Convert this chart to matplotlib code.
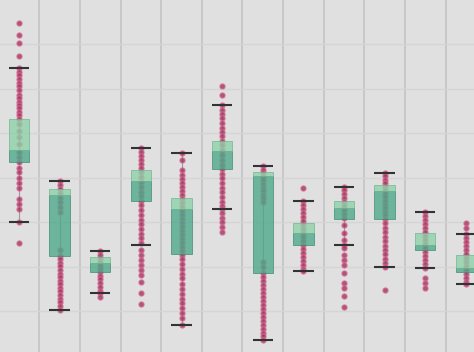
import numpy as np
import matplotlib
matplotlib.use("Agg")
import matplotlib.pyplot as plt

# Box statistics per group
q1 = [4.36, 2.25, 1.89, 3.48, 2.29, 4.20, 1.87, 2.49, 3.08, 3.08, 2.38, 1.89]
median = [4.62, 3.62, 2.09, 3.93, 3.30, 4.60, 4.04, 2.77, 3.32, 3.71, 2.49, 1.98]
q3 = [5.32, 3.75, 2.22, 4.17, 3.55, 4.83, 4.13, 2.99, 3.48, 3.84, 2.76, 2.27]
whisk_lo = [3.01, 1.04, 1.42, 2.49, 0.70, 3.30, 0.37, 1.91, 2.49, 2.00, 1.98, 1.62]
whisk_hi = [6.46, 3.93, 2.36, 4.67, 4.56, 5.63, 4.26, 3.48, 3.80, 4.11, 3.23, 2.74]

# Observations per group
points = [
    [7.47, 7.20, 7.02, 6.73, 6.46, 6.38, 6.30, 6.22, 6.13, 6.05, 5.97, 5.86,
     5.78, 5.71, 5.63, 5.56, 5.48, 5.40, 5.33, 5.21, 5.06, 4.91, 4.76, 4.58,
     4.47, 4.36, 4.23, 4.12, 4.00, 3.89, 3.78, 3.52, 3.41, 3.30, 3.01, 2.54],
    [3.93, 3.84, 3.75, 3.66, 3.55, 3.46, 3.35, 3.24, 2.38, 2.25, 2.17, 2.09,
     2.01, 1.93, 1.85, 1.77, 1.69, 1.61, 1.53, 1.45, 1.37, 1.29, 1.21, 1.12, 1.04],
    [2.36, 2.27, 2.18, 2.11, 2.02, 1.95, 1.89, 1.80, 1.72, 1.63, 1.55, 1.47,
     1.42, 1.33],
    [4.67, 4.58, 4.49, 4.40, 4.30, 4.21, 4.13, 4.02, 3.91, 3.80, 3.69, 3.58,
     3.48, 3.38, 3.27, 3.17, 3.06, 2.96, 2.85, 2.74, 2.64, 2.53, 2.38, 2.27,
     2.16, 2.04, 1.93, 1.82, 1.66, 1.42, 1.17],
    [4.56, 4.39, 4.17, 4.06, 3.98, 3.89, 3.80, 3.71, 3.62, 3.53, 3.44, 3.35,
     3.26, 3.17, 3.08, 2.99, 2.90, 2.81, 2.72, 2.63, 2.54, 2.45, 2.36, 2.27,
     2.17, 2.06, 1.96, 1.85, 1.74, 1.62, 1.51, 1.40, 1.29, 1.18, 1.07, 0.96,
     0.85, 0.70],
    [6.06, 5.85, 5.63, 5.53, 5.44, 5.34, 5.22, 5.12, 5.02, 4.93, 4.83, 4.74,
     4.62, 4.51, 4.40, 4.29, 4.20, 4.09, 3.99, 3.88, 3.78, 3.67, 3.57, 3.46,
     3.36, 3.30, 3.21, 3.10, 3.01, 2.90, 2.79],
    [4.26, 4.18, 4.10, 4.02, 3.94, 3.86, 3.78, 3.70, 3.62, 3.54, 3.46, 2.11,
     2.00, 1.87, 1.78, 1.69, 1.60, 1.51, 1.42, 1.33, 1.24, 1.15, 1.06, 0.97,
     0.88, 0.79, 0.70, 0.61, 0.52, 0.44, 0.37],
    [3.78, 3.48, 3.39, 3.30, 3.21, 3.12, 3.03, 2.94, 2.86, 2.77, 2.68, 2.59,
     2.50, 2.41, 2.32, 2.23, 2.14, 2.05, 1.96, 1.91],
    [3.80, 3.72, 3.63, 3.55, 3.46, 3.37, 3.28, 3.19, 3.10, 2.94, 2.77, 2.61,
     2.49, 2.43, 2.27, 2.16, 2.04, 1.86, 1.64, 1.53, 1.35, 1.10],
    [4.11, 4.04, 3.96, 3.88, 3.80, 3.72, 3.64, 3.56, 3.48, 3.40, 3.32, 3.24,
     3.16, 3.08, 2.98, 2.88, 2.78, 2.68, 2.58, 2.48, 2.38, 2.28, 2.18, 2.08,
     2.00, 1.49],
    [3.23, 3.14, 3.05, 2.96, 2.87, 2.78, 2.69, 2.60, 2.51, 2.42, 2.33, 2.24,
     2.15, 2.06, 1.98, 1.76, 1.64, 1.53],
    [2.99, 2.88, 2.74, 2.65, 2.56, 2.47, 2.38, 2.29, 2.20, 2.11, 2.02, 1.93,
     1.84, 1.75, 1.66, 1.62],
]

BG = "#e0e0e0"
LIGHT = "#8fd2a9"
DARK = "#4fa98a"
PT_FILL = "#9e3560"
PT_EDGE = "#dc6a92"

fig = plt.figure(figsize=(4.74, 3.52), dpi=100)
ax = fig.add_axes([0, 0, 1, 1])
ax.set_facecolor(BG)
fig.patch.set_facecolor(BG)

n = len(points)
xs = np.arange(n)

# grid: vertical between groups, faint horizontal
for x in np.arange(n) + 0.5:
    ax.axvline(x, color="#c6c6c6", lw=1.3, zorder=0)
for y in range(1, 8):
    ax.axhline(y, color="#d5d5d5", lw=1.0, zorder=0)

# whisker stems and caps
ax.vlines(xs, whisk_lo, whisk_hi, color="#555555", lw=0.8, alpha=0.5, zorder=1)
ax.hlines(whisk_hi, xs - 0.25, xs + 0.25, color="#333333", lw=1.5, zorder=4)
ax.hlines(whisk_lo, xs - 0.25, xs + 0.25, color="#333333", lw=1.5, zorder=4)

# observations (drawn under the boxes)
for i, vals in enumerate(points):
    ax.scatter(np.full(len(vals), i), vals, s=14, color=PT_FILL,
               edgecolors=PT_EDGE, linewidths=0.8, alpha=0.8, zorder=2)

# two-tone boxes, slightly see-through so the points show faintly
lower = np.array(median) - np.array(q1)
upper = np.array(q3) - np.array(median)
ax.bar(xs, lower, bottom=q1, width=0.5, color=DARK, alpha=0.8,
       edgecolor="#3d8a70", lw=0.6, zorder=3)
ax.bar(xs, upper, bottom=median, width=0.5, color=LIGHT, alpha=0.8,
       edgecolor="#6cb58e", lw=0.6, zorder=3)

ax.set_xlim(-0.468, 11.2)
ax.set_ylim(0.09, 7.99)
ax.set_xticks([])
ax.set_yticks([])
for s in ax.spines.values():
    s.set_visible(False)

fig.savefig("out.png", dpi=100, facecolor=BG)
